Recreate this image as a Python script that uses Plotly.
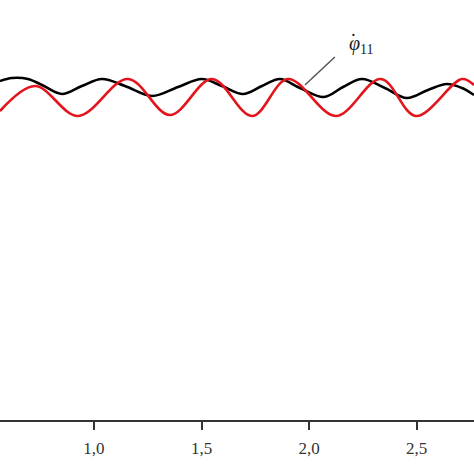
import plotly.graph_objects as go

# time axis (s) and the two angular velocity traces
t_black = [0.563, 0.619, 0.693, 0.758, 0.851, 0.944, 1.037, 1.144, 1.270, 1.391,
           1.502, 1.595, 1.693, 1.781, 1.865, 1.958, 2.069, 2.158, 2.246, 2.353,
           2.455, 2.553, 2.641, 2.711, 2.767]
phi_black = [3.39, 3.42, 3.41, 3.35, 3.26, 3.34, 3.41, 3.34, 3.24, 3.33,
             3.41, 3.34, 3.26, 3.34, 3.41, 3.32, 3.23, 3.33, 3.41, 3.32,
             3.22, 3.30, 3.36, 3.32, 3.25]

# red trace: peaks and troughs
t_red = [0.563, 0.726, 0.926, 1.158, 1.353, 1.549, 1.735, 1.902, 2.125, 2.334,
         2.497, 2.711, 2.767]
phi_red = [3.09, 3.34, 3.04, 3.41, 3.05, 3.41, 3.04, 3.41, 3.04, 3.41,
           3.04, 3.41, 3.35]

tick_vals = [1.0, 1.5, 2.0, 2.5]
x_range = [0.563, 2.767]
y_range = [0, 4.2]

# label with leader line
label_text = "<i>φ</i><sub>11</sub>"
label_pos = (2.246, 3.76)
dot_pos = (2.209, 3.79)
leader = (1.981, 3.35, 2.120, 3.63)

fig = go.Figure()
fig.add_trace(go.Scatter(x=t_black, y=phi_black, mode='lines',
                         line=dict(color='#000000', width=2.6, shape='spline', smoothing=1.0),
                         showlegend=False))
fig.add_trace(go.Scatter(x=t_red, y=phi_red, mode='lines',
                         line=dict(color='#e3141c', width=2.6, shape='spline', smoothing=1.0),
                         showlegend=False))

fig.add_shape(type='line', xref='x', yref='y',
              x0=leader[0], y0=leader[1], x1=leader[2], y1=leader[3],
              line=dict(color='#555555', width=1.5))
fig.add_annotation(x=label_pos[0], y=label_pos[1], text=label_text, showarrow=False,
                   font=dict(family='Liberation Serif', size=20, color='#222222'))
# dot over phi (time derivative)
fig.add_annotation(x=dot_pos[0], y=dot_pos[1], text="˙", showarrow=False,
                   font=dict(family='Liberation Serif', size=20, color='#222222'))

fig.update_layout(
    width=474, height=474,
    margin=dict(l=0, r=0, t=0, b=54),
    paper_bgcolor='white', plot_bgcolor='white',
    separators=',.',
    xaxis=dict(range=x_range, tickvals=tick_vals, tickformat='.1f',
               showgrid=False, zeroline=False,
               showline=True, linecolor='#333333', linewidth=1.6,
               ticks='outside', ticklen=8, tickwidth=1.6, tickcolor='#333333',
               ticklabelstandoff=4,
               tickfont=dict(family='Liberation Serif', size=17, color='#333333')),
    xaxis2=dict(range=x_range, tickvals=tick_vals, overlaying='x', anchor='y',
                showgrid=False, zeroline=False, showticklabels=False,
                ticks='inside', ticklen=7, tickwidth=1.6, tickcolor='#333333'),
    yaxis=dict(range=y_range, visible=False),
)

# page margin off so the figure sits at the window corner
fig.write_html("out.html", config={'displayModeBar': False},
               post_script="document.body.style.margin='0';")
